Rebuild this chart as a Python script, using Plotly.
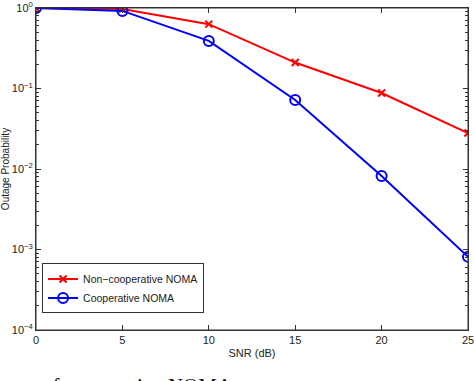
import plotly.graph_objects as go

snr = [0, 5, 10, 15, 20, 25]
non_coop = [1.0, 0.97, 0.63, 0.21, 0.088, 0.028]
coop = [1.0, 0.92, 0.39, 0.072, 0.0082, 0.00081]
x_ticks = [0, 5, 10, 15, 20, 25]
y_ticks = [1e-4, 1e-3, 1e-2, 1e-1, 1]
y_tick_text = ["10<sup>\u22124</sup>", "10<sup>\u22123</sup>", "10<sup>\u22122</sup>", "10<sup>\u22121</sup>", "10<sup>0</sup>"]

fig = go.Figure()
fig.add_trace(go.Scatter(x=snr, y=non_coop, mode="lines+markers", name="Non\u2212cooperative NOMA",
                         line=dict(color="#ff0000", width=2),
                         marker=dict(symbol="x-thin", size=7, line=dict(color="#ff0000", width=2), color="#ff0000")))
fig.add_trace(go.Scatter(x=snr, y=coop, mode="lines+markers", name="Cooperative NOMA",
                         line=dict(color="#0000ff", width=2),
                         marker=dict(symbol="circle-open", size=10, line=dict(color="#0000ff", width=2), color="#0000ff")))

axis_common = dict(showgrid=False, zeroline=False, showline=True, linecolor="#333", linewidth=1,
                   mirror="ticks", ticks="inside", ticklen=5, tickcolor="#333", automargin=False,
                   ticklabeloverflow="allow",
                   tickfont=dict(family="Liberation Sans, Arial", size=11, color="#222"))

fig.update_layout(
    width=474, height=381,
    margin=dict(l=36, r=6, t=8, b=51),
    paper_bgcolor="white", plot_bgcolor="white",
    font=dict(family="Liberation Sans, Arial", size=11, color="#222"),
    xaxis=dict(range=[0, 25], tickvals=x_ticks,
               title=dict(text="SNR (dB)", standoff=4, font=dict(size=11)), **axis_common),
    yaxis=dict(type="log", range=[-4, 0], tickvals=y_ticks, ticktext=y_tick_text,
               title=dict(text="Outage Probability", standoff=0, font=dict(size=10)),
               minor=dict(ticks="inside", ticklen=3, tickcolor="#333", dtick="D1"),
               **axis_common),
    legend=dict(x=0.014, y=0.129, xanchor="left", yanchor="middle",
                bordercolor="#333", borderwidth=1, bgcolor="white",
                font=dict(size=10.5), tracegroupgap=0, itemwidth=30),
    showlegend=True,
)
fig.add_shape(type="rect", xref="paper", yref="paper", x0=0, x1=1, y0=0, y1=1,
              line=dict(color="#333", width=1), layer="above")
fig.add_annotation(text="of cooperative NOMA", xref="paper", yref="paper",
                   x=(40 - 36) / 432, y=(330 - 372) / 322.5, xanchor="left", yanchor="top",
                   showarrow=False, font=dict(family="Liberation Serif, Times New Roman", size=21, color="#111"))

fig.write_html("out.html", config={"displayModeBar": False},
               post_script="document.body.style.margin='0';document.body.style.overflow='hidden';")
